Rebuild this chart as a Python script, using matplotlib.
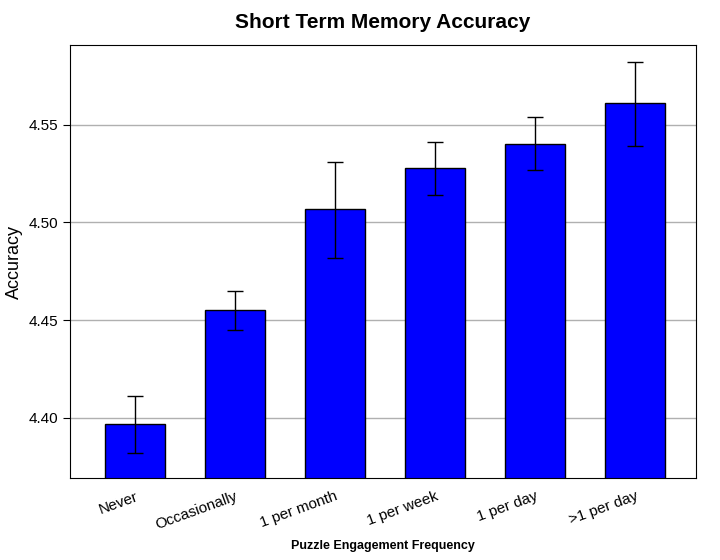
import matplotlib
matplotlib.use("Agg")
import matplotlib.pyplot as plt

categories = ["Never", "Occasionally", "1 per month", "1 per week", "1 per day", ">1 per day"]
means = [4.397, 4.455, 4.507, 4.528, 4.540, 4.561]
lower = [4.382, 4.445, 4.482, 4.514, 4.527, 4.539]
upper = [4.411, 4.465, 4.531, 4.541, 4.554, 4.582]

err = [[m - l for m, l in zip(means, lower)], [u - m for m, u in zip(means, upper)]]
x = list(range(len(categories)))

plt.rcParams["font.family"] = ["Liberation Sans", "DejaVu Sans"]
fig = plt.figure(figsize=(7.2, 5.6), dpi=100)
ax = fig.add_axes([0.097, 0.146, 0.870, 0.774])
ax.grid(axis="y", color="#b0b0b0", linewidth=1, zorder=0)
ax.bar(x, [m - 4.3 for m in means], bottom=4.3, width=0.6, color="#0000ff",
       edgecolor="black", linewidth=1, zorder=2)
ax.errorbar(x, means, yerr=err, fmt="none", ecolor="black", elinewidth=1,
            capsize=6, capthick=1, zorder=3)
ax.set_xlim(-0.65, 5.61)
ax.set_ylim(4.369, 4.591)
ax.set_yticks([4.40, 4.45, 4.50, 4.55])
ax.set_yticklabels(["4.40", "4.45", "4.50", "4.55"], fontsize=11)
ax.set_xticks(x)
ax.set_xticklabels(categories, rotation=20, ha="right", fontsize=11, rotation_mode="anchor")
ax.tick_params(axis="x", length=0, pad=8)
ax.tick_params(axis="y", direction="out", length=5)
ax.set_ylabel("Accuracy", fontsize=13)
ax.set_xlabel("Puzzle Engagement Frequency", fontsize=9, fontweight="bold", labelpad=6)
ax.set_title("Short Term Memory Accuracy", fontsize=15, fontweight="bold", pad=12)
fig.savefig("out.png", dpi=100)
